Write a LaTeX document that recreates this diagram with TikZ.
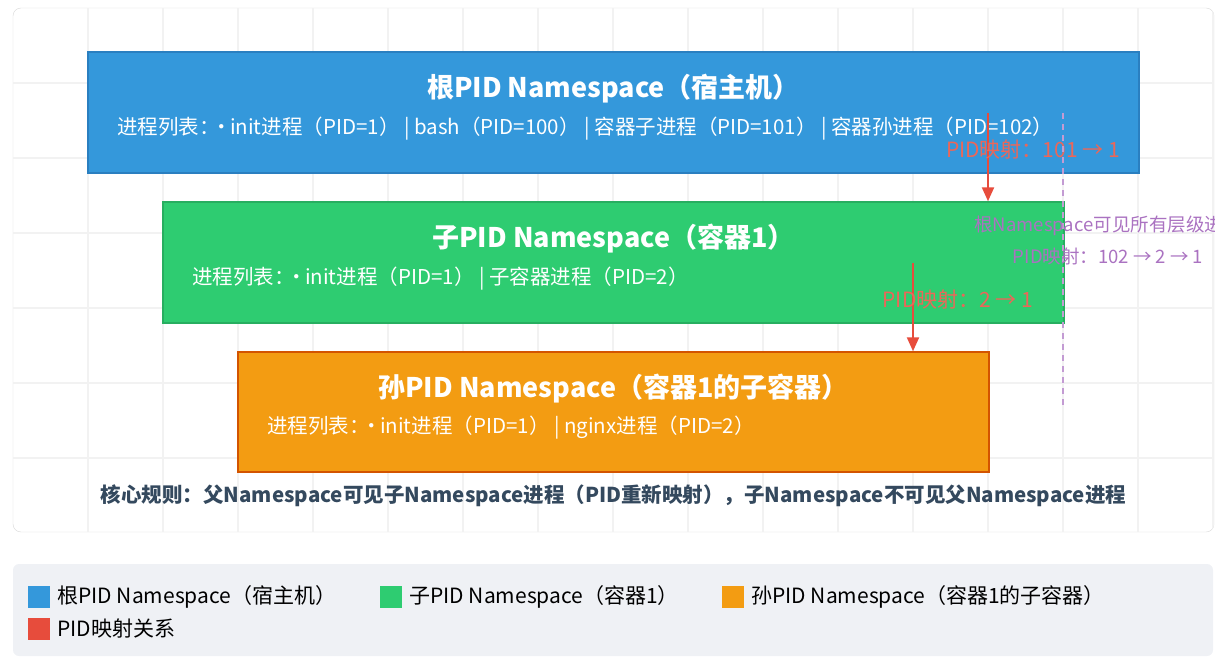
\documentclass[tikz,border=0pt]{standalone}
\usepackage{fontspec}
\setmainfont{Noto Sans CJK SC}
\usetikzlibrary{positioning,calc,arrows.meta}

\definecolor{rootblue}{HTML}{3498DB}
\definecolor{rootedge}{HTML}{2A7FC0}
\definecolor{childgreen}{HTML}{2ECC71}
\definecolor{childedge}{HTML}{27AE60}
\definecolor{grandorange}{HTML}{F39C12}
\definecolor{grandedge}{HTML}{D35400}
\definecolor{mapred}{HTML}{E74C3C}
\definecolor{viewpurple}{HTML}{9B59B6}
\definecolor{ruletext}{HTML}{34495E}
\definecolor{gridgray}{HTML}{F2F2F2}
\definecolor{legendbg}{HTML}{EFF1F5}

\tikzset{nsbox/.style = {rectangle, line width = 1.5pt, inner sep = 0pt}}
\tikzset{nstitle/.style = {text = white, font = \bfseries\fontsize{27}{32}\selectfont, inner sep = 0pt}}
\tikzset{nslist/.style = {text = white, font = \fontsize{20.5}{24}\selectfont, inner sep = 0pt, anchor = west}}
\tikzset{maparrow/.style = {draw = mapred, line width = 2.2pt, -{Triangle[length = 14pt, width = 12pt]}}}
\tikzset{maplabel/.style = {text = mapred!85, font = \fontsize{21}{24}\selectfont, inner sep = 0pt}}
\tikzset{viewline/.style = {draw = viewpurple!60, line width = 1.8pt, dash pattern = on 6pt off 5pt}}
\tikzset{viewlabel/.style = {text = viewpurple!85, font = \fontsize{18.5}{22}\selectfont, inner sep = 0pt}}
\tikzset{legkey/.style = {rectangle, minimum size = 22pt, inner sep = 0pt}}
\tikzset{legtext/.style = {font = \fontsize{21}{24}\selectfont, inner sep = 0pt, anchor = west}}

\newcommand\listhead{进程列表：\kern-0.4em•\kern-0.1em}

\begin{document}
\begin{tikzpicture}[x = 1pt, y = -1pt]

    \useasboundingbox (0,0) rectangle (1229,666);

    % panel and grid
    \draw[gray!30, fill = white, rounded corners = 8pt] (13,8) rectangle (1214,532);
    \begin{scope}
        \clip[rounded corners = 8pt] (13,8) rectangle (1214,532);
        \foreach \gx in {88,163,...,1213}
            \draw[gridgray, line width = 1.2pt] (\gx,8) -- (\gx,532);
        \foreach \gy in {83,158,...,532}
            \draw[gridgray, line width = 1.2pt] (13,\gy) -- (1214,\gy);
    \end{scope}

    % namespaces
    \node (root) [nsbox, fill = rootblue, draw = rootedge,
        minimum width = 1051pt, minimum height = 121pt] at (613.5,112.5) {};
    \node (child) [nsbox, fill = childgreen, draw = childedge,
        minimum width = 901pt, minimum height = 121pt] at (613.5,262.5) {};
    \node (grand) [nsbox, fill = grandorange, draw = grandedge,
        minimum width = 751pt, minimum height = 120pt] at (613.5,412) {};

    \node (roottitle) [nstitle] at ($(root.north)+(0,37)$) {根PID Namespace（宿主机）};
    \node (rootlist) [nslist] at ($(root.west)+(30,16)$)
        {\listhead init进程（PID=1） | bash（PID=100） | 容器子进程（PID=101） | 容器孙进程（PID=102）};

    \node (childtitle) [nstitle] at ($(child.north)+(0,37)$) {子PID Namespace（容器1）};
    \node (childlist) [nslist] at ($(child.west)+(30,16)$)
        {\listhead init进程（PID=1） | 子容器进程（PID=2）};

    \node (grandtitle) [nstitle] at ($(grand.north)+(0,37)$) {孙PID Namespace（容器1的子容器）};
    \node (grandlist) [nslist] at ($(grand.west)+(30,16)$)
        {\listhead init进程（PID=1） | nginx进程（PID=2）};

    % pid mapping
    \coordinate (map1) at (988,113);
    \draw[maparrow] (map1) -- (map1 |- child.north);
    \node (map1label) [maplabel] at (1033,150) {PID映射：101 → 1};

    \coordinate (map2) at (913,263);
    \draw[maparrow] (map2) -- (map2 |- grand.north);
    \node (map2label) [maplabel] at (958,300) {PID映射：2 → 1};

    % root view
    \coordinate (viewtop) at (1063,113);
    \coordinate (viewbot) at (1063,408);
    \draw[viewline] (viewtop) -- (viewbot);
    \begin{scope}
        \clip (13,8) rectangle (1214,532);
        \node (viewlabel) [viewlabel] at (1108,226) {根Namespace可见所有层级进程};
        \node (viewmap) [viewlabel] at (1108,256) {PID映射：102 → 2 → 1};
    \end{scope}

    \node (rule) [text = ruletext, font = \bfseries\fontsize{20.5}{24}\selectfont] at (613.5,496)
        {核心规则：父Namespace可见子Namespace进程（PID重新映射），子Namespace不可见父Namespace进程};

    % legend
    \fill[legendbg, rounded corners = 6pt] (13,564) rectangle (1213,656);
    \node (keyroot) [legkey, fill = rootblue] at (39,597) {};
    \node (txtroot) [legtext, right = 7pt of keyroot] {根PID Namespace（宿主机）};
    \node (keychild) [legkey, fill = childgreen] at (391,597) {};
    \node (txtchild) [legtext, right = 7pt of keychild] {子PID Namespace（容器1）};
    \node (keygrand) [legkey, fill = grandorange] at (733,597) {};
    \node (txtgrand) [legtext, right = 7pt of keygrand] {孙PID Namespace（容器1的子容器）};
    \node (keymap) [legkey, fill = mapred] at (39,629) {};
    \node (txtmap) [legtext, right = 7pt of keymap] {PID映射关系};

\end{tikzpicture}
\end{document}
